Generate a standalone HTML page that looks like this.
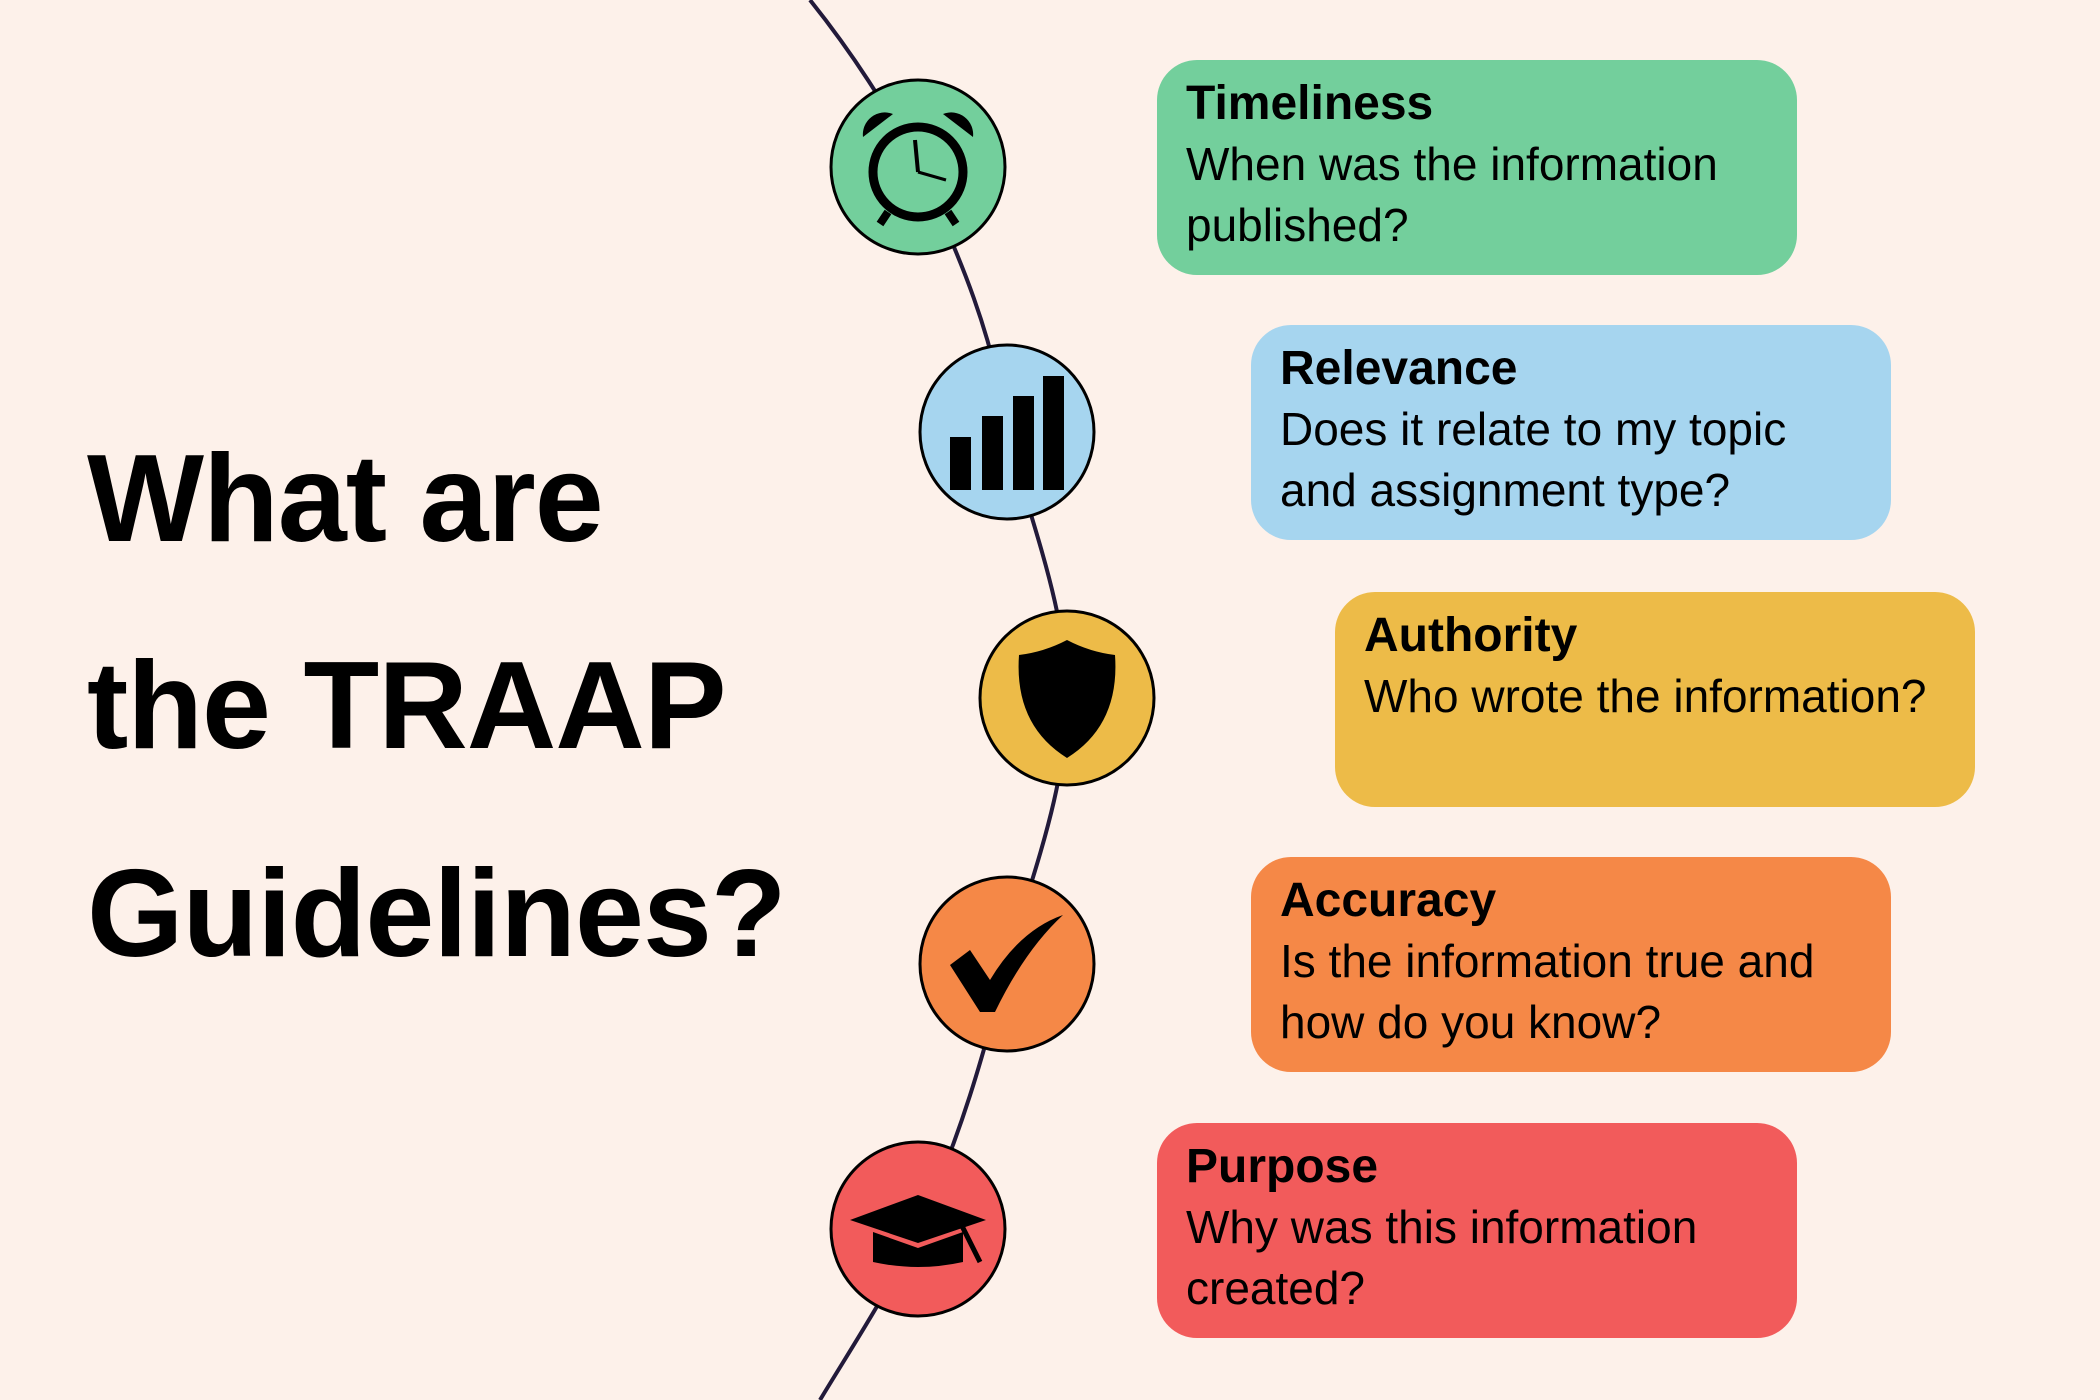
<!DOCTYPE html>
<html><head><meta charset="utf-8"><style>
html,body{margin:0;padding:0}
body{width:2100px;height:1400px;background:#fdf1ea;position:relative;overflow:hidden;font-family:"Liberation Sans",sans-serif;color:#000}
.t{position:absolute;left:87px;font-size:124px;font-weight:bold;line-height:1;letter-spacing:-1px}
.box{position:absolute;width:640px;height:215px;border-radius:40px;box-sizing:border-box;padding:13px 29px}
.box b{display:block;font-size:48px;line-height:61px}
.box span{display:block;font-size:46px;line-height:61px}
</style></head><body>
<div class="t" style="top:437px">What are</div>
<div class="t" style="top:644px">the TRAAP</div>
<div class="t" style="top:852px">Guidelines?</div>
<svg width="2100" height="1400" style="position:absolute;left:0;top:0">
<path d="M810 0 C850 50 890 110 918 167 C960 255 995 340 1007 432 C1030 520 1067 610 1067 698 C1067 790 1030 880 1007 964 C985 1050 960 1140 918 1229 C890 1290 850 1350 820 1400" fill="none" stroke="#221a3a" stroke-width="4"/>
<g stroke="#000" stroke-width="3">
<circle cx="918" cy="167" r="87" fill="#73cf9c"/>
<circle cx="1007" cy="432" r="87" fill="#a6d5ef"/>
<circle cx="1067" cy="698" r="87" fill="#edbb48"/>
<circle cx="1007" cy="964" r="87" fill="#f58847"/>
<circle cx="918" cy="1229" r="87" fill="#f25b5b"/>
</g>
<g transform="translate(918,172)">
<circle r="45" fill="none" stroke="#000" stroke-width="9"/>
<path d="M-55 -35 A22 22 0 0 1 -25 -58 Z M55 -35 A22 22 0 0 0 25 -58 Z" fill="#000"/>
<line x1="-30" y1="40" x2="-38" y2="52" stroke="#000" stroke-width="8"/>
<line x1="30" y1="40" x2="38" y2="52" stroke="#000" stroke-width="8"/>
<line x1="0" y1="0" x2="-3" y2="-32" stroke="#000" stroke-width="4"/>
<line x1="0" y1="0" x2="28" y2="8" stroke="#000" stroke-width="3"/>
</g>
<g fill="#000">
<rect x="950" y="437" width="21" height="53"/><rect x="982" y="416" width="21" height="74"/>
<rect x="1013" y="396" width="21" height="94"/><rect x="1043" y="376" width="21" height="114"/>
</g>
<path d="M1067 640 Q1090 652 1115 655 Q1120 725 1067 758 Q1014 725 1019 655 Q1044 652 1067 640Z" fill="#000"/>
<path d="M950 965 L970 950 L990 980 Q1020 930 1063 915 Q1025 950 995 1012 L980 1012 Z" fill="#000"/>
<g fill="#000">
<path d="M850 1220 L918 1195 L986 1220 L918 1243 Z"/>
<path d="M873 1232 L873 1262 Q918 1272 963 1262 L963 1232 L918 1248 Z"/>
<line x1="960" y1="1222" x2="980" y2="1262" stroke="#000" stroke-width="5"/>
</g>
</svg>
<div class="box" style="left:1157px;top:60px;background:#73cf9c"><b>Timeliness</b><span>When was the information published?</span></div>
<div class="box" style="left:1251px;top:325px;background:#a6d5ef"><b>Relevance</b><span>Does it relate to my topic and assignment type?</span></div>
<div class="box" style="left:1335px;top:592px;background:#edbb48"><b>Authority</b><span>Who wrote the information?</span></div>
<div class="box" style="left:1251px;top:857px;background:#f58847"><b>Accuracy</b><span>Is the information true and how do you know?</span></div>
<div class="box" style="left:1157px;top:1123px;background:#f25b5b"><b>Purpose</b><span>Why was this information created?</span></div>
</body></html>
